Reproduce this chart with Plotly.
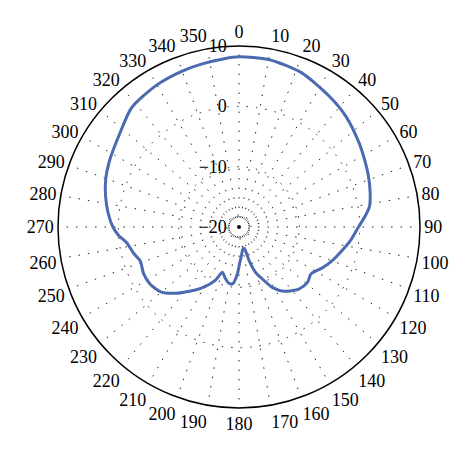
import plotly.graph_objects as go

# Radiation pattern (angle in degrees, gain in dB)
angles = [0, 10, 22, 35, 44, 55, 62, 68, 75, 81, 85, 90, 97, 103, 110, 116, 123,
          129, 136, 145, 151, 157, 160, 163, 166, 169, 172, 176, 179, 182, 186,
          190, 195, 200, 204, 207, 212, 217, 223, 230, 237, 244, 251, 256, 262,
          266, 270, 276, 283, 290, 297, 308, 318, 330, 340, 347, 355, 360]
gain_db = [8.2, 8.2, 7.6, 6.3, 5.5, 4.3, 3.6, 3.1, 2.5, 1.9, 1.0, -0.2, -1.4,
           -2.5, -3.6, -4.6, -5.75, -5.4, -5.7, -7.0, -8.5, -11.0, -12.0, -14.0,
           -16.3, -16.4, -16.0, -15.0, -14.0, -12.2, -10.6, -10.5, -11.2, -12.0,
           -10.3, -9.4, -8.0, -6.7, -5.0, -3.2, -2.5, -2.4, -2.7, -2.0, -1.2,
           0.0, 0.9, 1.8, 2.7, 3.5, 4.1, 5.1, 6.6, 7.2, 7.5, 7.7, 8.0, 8.2]

angle_ticks = list(range(0, 360, 10))
angle_labels = [str(a) for a in angle_ticks]
radial_ticks = [-20, -18, -10, 0, 10]
radial_labels = ["\u221220", "", "\u221210", "0", "10"]

FONT = "Liberation Serif"
GRID_DASH = "1.5px,8px"
PAD = "\u00a0\u00a0"

fig = go.Figure()
fig.add_trace(go.Scatterpolar(
    r=gain_db, theta=angles, mode="lines",
    line=dict(color="#4a6baf", width=3, shape="spline", smoothing=0.7),
    showlegend=False, hoverinfo="skip",
))
fig.add_trace(go.Scatterpolar(
    r=[-20], theta=[0], mode="markers",
    marker=dict(color="black", size=3),
    showlegend=False, hoverinfo="skip",
))

fig.update_layout(
    width=474, height=452,
    margin=dict(l=50, r=62, t=38, b=52, autoexpand=False),
    paper_bgcolor="white",
    font=dict(family=FONT, size=18, color="black"),
    polar=dict(
        bgcolor="white",
        angularaxis=dict(
            rotation=90, direction="clockwise",
            tickmode="array", tickvals=angle_ticks, ticktext=angle_labels,
            ticks="", showline=True, linecolor="black", linewidth=1.5,
            showgrid=True, gridcolor="#222222", gridwidth=1.3, griddash=GRID_DASH,
            tickfont=dict(family=FONT, size=18, color="black"),
        ),
        radialaxis=dict(
            range=[-20, 10], angle=90, tickangle=90, side="counterclockwise",
            tickmode="array", tickvals=radial_ticks,
            ticktext=[t + PAD if t else t for t in radial_labels],
            ticks="", showline=False,
            showgrid=True, gridcolor="#222222", gridwidth=1.3, griddash=GRID_DASH,
            tickfont=dict(family=FONT, size=18, color="black"),
        ),
    ),
)

fig.write_html("out.html")
